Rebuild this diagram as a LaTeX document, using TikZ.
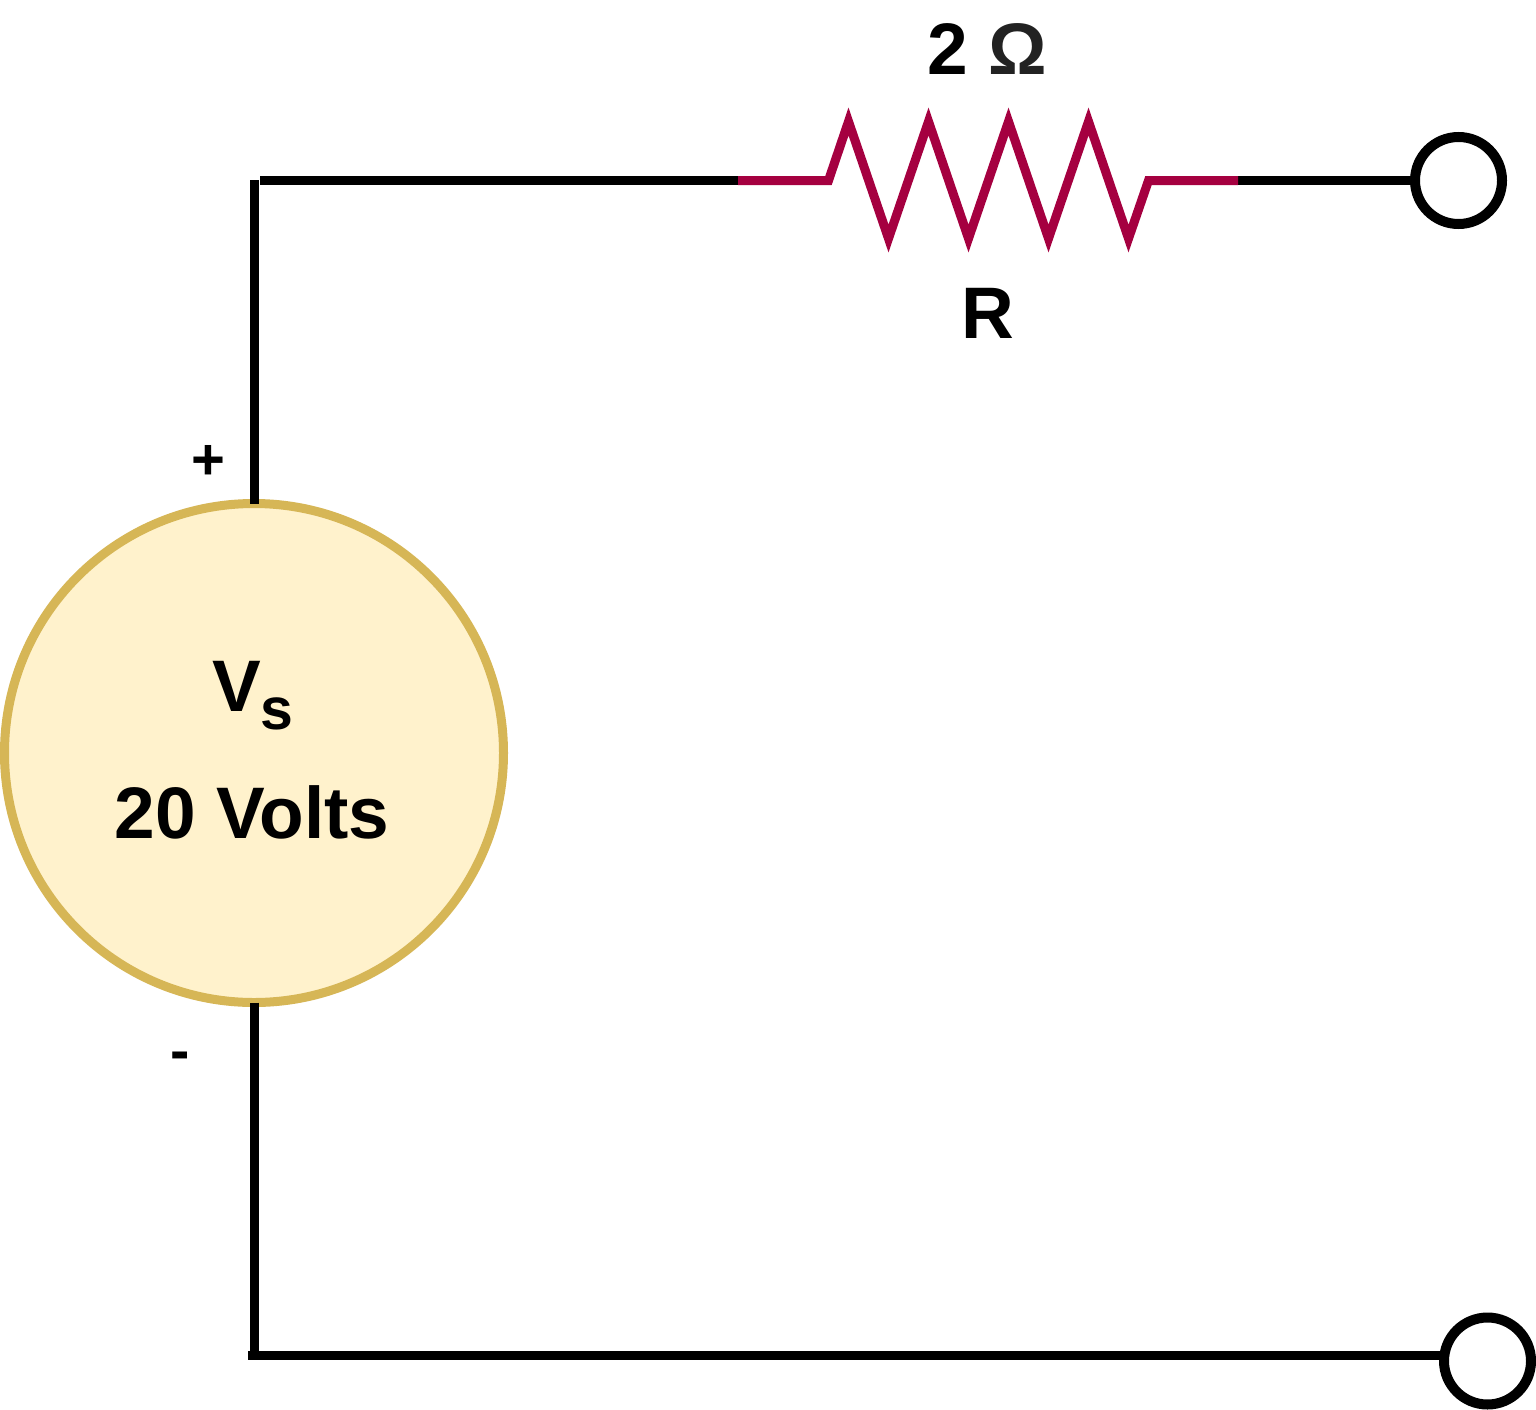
\documentclass[tikz,border=0pt]{standalone}
\usepackage{fontspec}
\setmainfont{Liberation Sans}[BoldFont={Liberation Sans Bold}]
\definecolor{srcfill}{HTML}{FFF2CC}
\definecolor{srcline}{HTML}{D6B656}
\definecolor{resline}{HTML}{A50040}
\definecolor{omegacol}{HTML}{222222}
\newcommand{\bigtxt}{\fontsize{73}{73}\selectfont\bfseries}
\newcommand{\signtxt}{\fontsize{58}{58}\selectfont\bfseries}
\newcommand{\subtxt}{\fontsize{59}{59}\selectfont\bfseries}
\tikzset{
  wire/.style={draw=black,line width=9pt,line cap=butt},
  reswire/.style={draw=resline,line width=9pt,line join=miter,miter limit=10},
  terminal/.style={circle,draw=black,fill=white,line width=10pt,minimum size=87pt,inner sep=0pt,outer sep=0pt},
  source/.style={circle,draw=srcline,fill=srcfill,line width=9pt,minimum size=499pt,inner sep=0pt,outer sep=0pt},
  lbl/.style={inner sep=0pt,outer sep=0pt,anchor=base,text=black},
}
\begin{document}
\begin{tikzpicture}[x=1pt,y=-1pt]
\useasboundingbox (0,0) rectangle (1536,1410);
\node[source] (vs) at (254,753) {};
\node[terminal] (t1) at (1458.5,180.5) {};
\node[terminal] (t2) at (1487.5,1361) {};
\coordinate (topv) at (254,180);
\coordinate (toph) at (260,180.5);
\coordinate (botv) at (254,1360);
\coordinate (both) at (248,1355.5);
\coordinate (rl) at (738,180.5);
\coordinate (rr) at (1238,180.5);
\coordinate (t2w) at (1445,1355.5);
\draw[wire] (vs.north) -- (topv);
\draw[wire] (toph) -- (rl);
\draw[wire] (rr) -- (t1.west);
\draw[wire] (vs.south) -- (botv);
\draw[wire] (both) -- (t2w);
\draw[reswire] (rl) -- (828.5,180.5) -- (848.5,121.5) -- (888.5,238.5) -- (928.5,121.5) -- (968.5,238.5) -- (1008.5,121.5) -- (1048.5,238.5) -- (1088.5,121.5) -- (1128.5,238.5) -- (1148.5,180.5) -- (rr);
\node[lbl] (ohm) at (987,75) {\bigtxt 2 \textcolor{omegacol}{Ω}};
\node[lbl] (rlab) at (988,338.5) {\bigtxt R};
\node[lbl] (plus) at (208,479.5) {\signtxt +};
\node[lbl] (minus) at (180.5,1070) {\signtxt -};
\node[lbl,anchor=base west] (vlab) at (212,711.5) {\bigtxt V\raisebox{-18pt}{\subtxt s}};
\node[lbl] (volts) at (252,838.5) {\bigtxt 20 Volts};
\end{tikzpicture}
\end{document}
